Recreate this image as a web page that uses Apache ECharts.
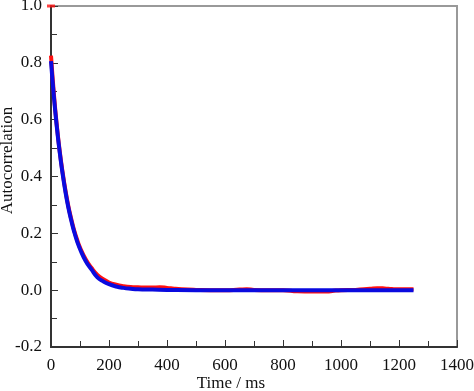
<!DOCTYPE html>
<html>
<head>
<meta charset="utf-8">
<script src="https://cdn.jsdelivr.net/npm/echarts@6/dist/echarts.min.js"></script>
<style>html,body{margin:0;padding:0;background:#fff;}#c{width:474px;height:391px;}</style>
</head>
<body>
<div id="c"></div>
<script>
var fitTimes = [0,10,20,30,40,50,60,70,80,90,100,120,140,160,180,200,225,250,275,300,350,400,500,600,700,800,900,1000,1100,1200,1250];
var fitValues = [0.806,0.68,0.575,0.485,0.41,0.345,0.29,0.245,0.205,0.172,0.145,0.102,0.072,0.045,0.031,0.021,0.013,0.008,0.005,0.003,0.002,0.001,0,0,0,0,0,0,0,0,0];
var dataTimes = [0,10,20,30,40,50,60,70,80,90,100,120,140,160,180,200,225,250,275,300,325,350,375,400,425,450,500,550,600,650,675,700,750,800,850,900,950,975,1000,1050,1100,1125,1150,1175,1200,1250];
var dataValues = [0.825,0.69,0.58,0.49,0.415,0.35,0.295,0.25,0.21,0.178,0.15,0.108,0.078,0.054,0.039,0.027,0.019,0.014,0.011,0.01,0.009,0.009,0.01,0.008,0.005,0.003,0.001,0,0,0.002,0.003,0.001,0,0,-0.004,-0.005,-0.005,-0.002,0,0.001,0.005,0.007,0.006,0.004,0.003,0.003];
var lagZeroPoint = [[0, 1.0]];
var xTicks = [0,200,400,600,800,1000,1200,1400];
var yTicks = [-0.2,0,0.2,0.4,0.6,0.8,1.0];

function pairs(t, v){ return t.map(function(x,i){ return [x, v[i]]; }); }

var font = 'Liberation Serif';
var chart = echarts.init(document.getElementById('c'));
chart.setOption({
  animation: false,
  grid: {left: 51, right: 17, top: 6, bottom: 44, show: true, borderColor: '#999', borderWidth: 2,
         backgroundColor: 'transparent', containLabel: false, outerBoundsMode: 'none'},
  xAxis: {
    type: 'value', min: xTicks[0], max: xTicks[xTicks.length-1], interval: 200,
    name: 'Time / ms', nameLocation: 'middle', nameGap: 28, nameMoveOverlap: false,
    nameTextStyle: {fontFamily: font, fontSize: 17, color: '#111', padding: [0, 46, 0, 0]},
    axisLine: {show: true, onZero: false, lineStyle: {color: '#333', width: 2}},
    axisTick: {show: true, inside: true, length: 7, lineStyle: {color: '#333', width: 1}},
    minorTick: {show: true, splitNumber: 2, length: 6, lineStyle: {color: '#333', width: 1}},
    axisLabel: {fontFamily: font, fontSize: 17, color: '#111', margin: 10, hideOverlap: false,
      formatter: function(v){ return String(v); }},
    splitLine: {show: false}
  },
  yAxis: {
    type: 'value', min: yTicks[0], max: yTicks[yTicks.length-1], interval: 0.2,
    name: 'Autocorrelation', nameLocation: 'middle', nameGap: 35, nameRotate: 90, nameMoveOverlap: false,
    nameTextStyle: {fontFamily: font, fontSize: 17, color: '#111', padding: [0, 0, 0, 32]},
    axisLine: {show: true, onZero: false, lineStyle: {color: '#333', width: 2}},
    axisTick: {show: true, inside: true, length: 7, lineStyle: {color: '#333', width: 1}},
    minorTick: {show: true, splitNumber: 2, length: 6, lineStyle: {color: '#333', width: 1}},
    axisLabel: {fontFamily: font, fontSize: 17, color: '#111', margin: 9, hideOverlap: false,
      formatter: function(v){ return v.toFixed(1); }},
    splitLine: {show: false}
  },
  series: [
    {type: 'line', data: pairs(dataTimes, dataValues), showSymbol: false, smooth: true,
     lineStyle: {color: '#ff1010', width: 4}, z: 2},
    {type: 'scatter', data: lagZeroPoint, symbol: 'rect', symbolSize: [8, 3],
     itemStyle: {color: '#ff1010'}, z: 2},
    {type: 'line', data: pairs(fitTimes, fitValues), showSymbol: false, smooth: true,
     lineStyle: {color: '#0a0adf', width: 4}, z: 3}
  ]
});
</script>
</body>
</html>
